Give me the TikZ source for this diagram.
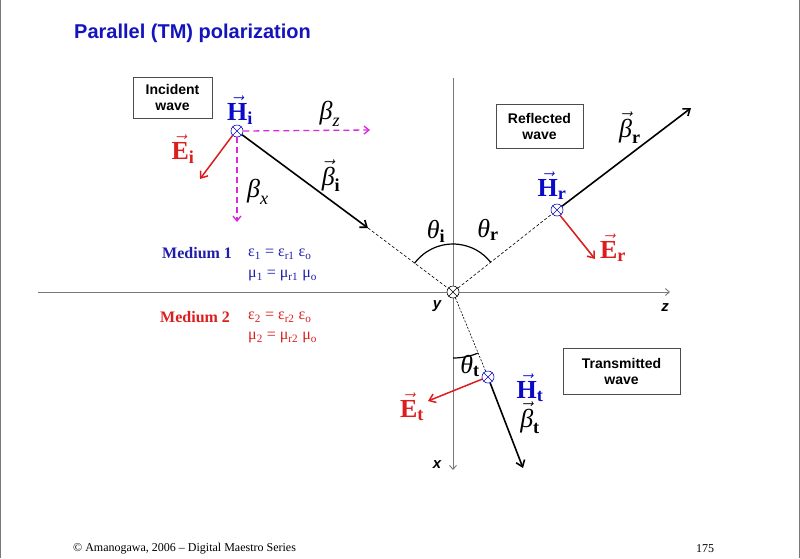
\documentclass[tikz,border=0pt]{standalone}
\usepackage{amsmath}
\usepackage{fontspec}
\setmainfont{Liberation Serif}
\newfontfamily\arial{Liberation Sans}
\usetikzlibrary{arrows.meta}
\definecolor{tblue}{RGB}{20,20,190}
\definecolor{mblue}{RGB}{30,30,170}
\definecolor{hblue}{RGB}{10,10,200}
\definecolor{tred}{RGB}{220,30,30}
\definecolor{mag}{RGB}{220,40,220}
\definecolor{axgray}{RGB}{120,120,120}
\newcommand\vlab[2]{$\vec{\text{#1}}_{\text{#2}}$}
\tikzset{
  hcirc/.style={circle,draw=hblue,minimum size=12pt,inner sep=0pt,line width=0.6pt},
  ocirc/.style={circle,draw=black,minimum size=12pt,inner sep=0pt,line width=0.6pt},
  wavebox/.style={draw=black!70,line width=0.7pt,align=center,font=\arial\bfseries\fontsize{14}{16}\selectfont,inner sep=0pt},
  kvec/.style={line width=1.6pt,-{Straight Barb[length=6pt,width=9pt]}},
  evec/.style={line width=1.5pt,draw=tred,-{Straight Barb[length=6pt,width=9pt]}},
  bvec/.style={line width=1.3pt,draw=mag,dash pattern=on 6pt off 4pt,-{Straight Barb[length=5pt,width=8pt]}},
  axis/.style={line width=0.9pt,draw=axgray,-{Straight Barb[length=4pt,width=7pt]}},
  ray/.style={line width=0.6pt,dashed,dash pattern=on 3pt off 2pt},
  lbl/.style={inner sep=0pt,font=\fontsize{26}{28}\selectfont},
  axlbl/.style={inner sep=0pt,font=\arial\bfseries\itshape\fontsize{15}{17}\selectfont},
  med/.style={inner sep=0pt,anchor=west,font=\fontsize{16}{18}\selectfont}
}
\begin{document}
\begin{tikzpicture}[x=1pt,y=-1pt]
\useasboundingbox (0,0) rectangle (800,558);
\fill[white] (0,0) rectangle (800,558);
\draw[axgray,line width=1pt] (0.5,0) -- (0.5,558) (799.5,0) -- (799.5,558);

% title
\node[anchor=west,inner sep=0pt,text=tblue,font=\arial\bfseries\fontsize{20}{24}\selectfont] (title) at (74,33) {Parallel (TM) polarization};

% axes
\coordinate (zl) at (38,292);
\coordinate (zr) at (670,292);
\coordinate (xt) at (453,78);
\coordinate (xb) at (453,470);
\draw[axis] (zl) -- (zr);
\draw[axis] (xt) -- (xb);
\node[axlbl] (zlab) at (665,308) {z};
\node[axlbl] (xlab) at (437,465) {x};
\node[axlbl] (ylab) at (437,306) {y};

% origin
\node[ocirc,fill=white] (O) at (453,292) {};
\draw[line width=0.6pt] (O.45) -- (O.225) (O.135) -- (O.315);

% incident
\node[hcirc] (Hi) at (237,131) {};
\draw[hblue,line width=0.6pt] (Hi.45) -- (Hi.225) (Hi.135) -- (Hi.315);
\coordinate (ai) at (368,228);
\draw[kvec] (Hi) -- (ai);
\draw[ray] (ai) -- (O);
\coordinate (bz) at (370,130);
\coordinate (bx) at (237,222);
\draw[bvec] (Hi.east) -- (bz);
\draw[bvec] (Hi.south) -- (bx);
\coordinate (ei) at (200,179);
\draw[evec] (Hi.225) -- (ei);
\node[lbl,text=hblue] (Hil) at (240,110) {\vlab{\bfseries H}{\bfseries i}};
\node[lbl,text=tred] (Eil) at (183,149) {\vlab{\bfseries E}{\bfseries i}};
\node[lbl] (bzl) at (330,114) {$\text{\itshape β}_{\text{\itshape z}}$};
\node[lbl] (bxl) at (258,192) {$\text{\itshape β}_{\text{\itshape x}}$};
\node[lbl] (bil) at (331,176) {\vlab{\itshape β}{\bfseries i}};

% reflected
\node[hcirc] (Hr) at (557,210) {};
\draw[hblue,line width=0.6pt] (Hr.45) -- (Hr.225) (Hr.135) -- (Hr.315);
\coordinate (ar) at (691,108);
\draw[ray] (O) -- (Hr);
\draw[kvec] (Hr) -- (ar);
\coordinate (er) at (595,259);
\draw[evec] (Hr.300) -- (er);
\node[lbl,text=hblue] (Hrl) at (552,186) {\vlab{\bfseries H}{\bfseries r}};
\node[lbl,text=tred] (Erl) at (613,248) {\vlab{\bfseries E}{\bfseries r}};
\node[lbl] (brl) at (630,128) {\vlab{\itshape β}{\bfseries r}};

% transmitted
\node[hcirc] (Ht) at (488,377) {};
\draw[hblue,line width=0.6pt] (Ht.45) -- (Ht.225) (Ht.135) -- (Ht.315);
\coordinate (at) at (523,468);
\draw[line width=0.6pt,dash pattern=on 2pt off 1.5pt] (O) -- (Ht);
\draw[kvec] (Ht.290) -- (at);
\coordinate (et) at (428,401);
\draw[evec] (Ht.200) -- (et);
\node[lbl,text=hblue] (Htl) at (530,388) {\vlab{\bfseries H}{\bfseries t}};
\node[lbl,text=tred] (Etl) at (412,407) {\vlab{\bfseries E}{\bfseries t}};
\node[lbl] (btl) at (530,418) {\vlab{\itshape β}{\bfseries t}};

% angles
\draw[line width=1.2pt] (O) ++(-143.3:48) arc[start angle=-143.3,end angle=-38.3,radius=48];
\draw[line width=1.2pt] (O) ++(68:66) arc[start angle=68,end angle=90,radius=66];
\node[lbl] (thi) at (436,231) {$\text{\itshape θ}_{\text{\bfseries i}}$};
\node[lbl] (thr) at (488,230) {$\text{\itshape θ}_{\text{\bfseries r}}$};
\node[lbl] (tht) at (470,366) {$\text{\itshape θ}_{\text{\bfseries t}}$};

% boxes
\node[wavebox,minimum width=79pt,minimum height=41pt] (ib) at (172.5,97.5) {Incident\\wave};
\node[wavebox,minimum width=87pt,minimum height=44pt] (rb) at (539.5,126) {Reflected\\wave};
\node[wavebox,minimum width=117pt,minimum height=46pt] (tb) at (621.5,371) {Transmitted\\wave};

% media
\node[med,text=mblue,font=\bfseries\fontsize{16}{18}\selectfont] (m1) at (162,253) {Medium 1};
\node[med,text=mblue] (e1) at (248,254) {ε\textsubscript{1} = ε\textsubscript{r1} ε\textsubscript{o}};
\node[med,text=mblue] (u1) at (248,276) {μ\textsubscript{1} = μ\textsubscript{r1} μ\textsubscript{o}};
\node[med,text=tred,font=\bfseries\fontsize{16}{18}\selectfont] (m2) at (160,317) {Medium 2};
\node[med,text=tred] (e2) at (248,317) {ε\textsubscript{2} = ε\textsubscript{r2} ε\textsubscript{o}};
\node[med,text=tred] (u2) at (248,338) {μ\textsubscript{2} = μ\textsubscript{r2} μ\textsubscript{o}};

% footer
\node[anchor=west,inner sep=0pt,font=\fontsize{12}{14}\selectfont] (foot) at (73,549) {© Amanogawa, 2006 – Digital Maestro Series};
\node[inner sep=0pt,font=\fontsize{12}{14}\selectfont] (page) at (705,549) {175};
\end{tikzpicture}
\end{document}
